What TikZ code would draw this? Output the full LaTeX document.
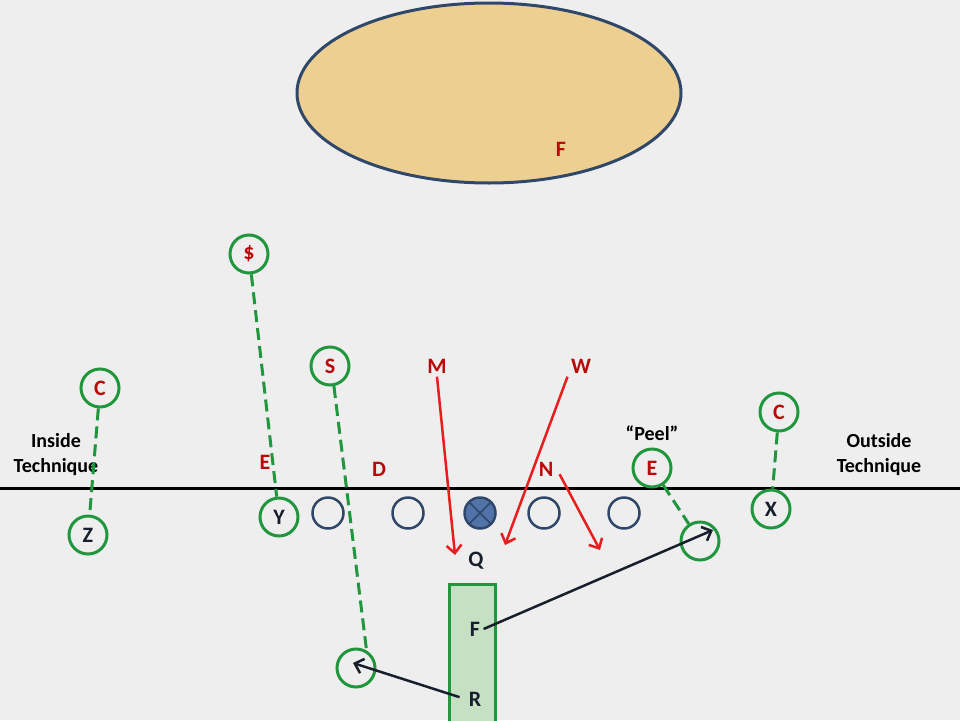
\documentclass[tikz,border=0pt]{standalone}
\usepackage{fontspec}
\setmainfont{Carlito}
\usepackage{tikz}
\usetikzlibrary{positioning}
\usetikzlibrary{arrows,arrows.meta}
\usetikzlibrary{shapes}

\definecolor{bggray}{RGB}{238,238,238}
\definecolor{zonetan}{RGB}{237,208,145}
\definecolor{navy}{RGB}{47,72,105}
\definecolor{fgreen}{RGB}{32,150,62}
\definecolor{dred}{RGB}{185,10,10}
\definecolor{bred}{RGB}{232,30,30}
\definecolor{olblue}{RGB}{82,114,170}
\definecolor{boxgreen}{RGB}{198,224,196}
\definecolor{ink}{RGB}{25,30,45}

\begin{document}
\begin{tikzpicture}[x=1pt,y=-1pt,on grid,font=\fontsize{22}{24}\selectfont\bfseries,
   >={Straight Barb[length=8pt,width=15pt]},
   cover/.style={circle,draw=fgreen,line width=3pt,minimum size=38pt,inner sep=0pt,text=dred},
   wr/.style={cover,text=ink},
   ol/.style={circle,draw=navy,line width=2.5pt,minimum size=31pt,inner sep=0pt},
   def/.style={text=dred},
   off/.style={text=ink},
   note/.style={align=center,font=\fontsize{20}{25}\selectfont\bfseries},
   rush/.style={->,draw=bred,line width=2.5pt},
   block/.style={->,draw=ink,line width=2.5pt},
   drop/.style={draw=fgreen,line width=3pt,dash pattern=on 12pt off 6pt}]
   \fill[bggray] (0,0) rectangle (960,720);
   \useasboundingbox (0,0) rectangle (960,720);

   \node[ellipse,draw=navy,fill=zonetan,line width=3pt,minimum width=384pt,minimum height=180pt] (deep) at (489,93) {};
   \node[def] (fs) at (561,149) {F};

   \draw[black,line width=3pt] (0,488) -- (960,488);

   \node[note] (inside) at (56,455) {Inside\\Technique};
   \node[note] (outside) at (879,455) {Outside\\Technique};

   \node[ol,fill=olblue,path picture={
      \draw[navy,line width=1.5pt] (path picture bounding box.north west) -- (path picture bounding box.south east)
         (path picture bounding box.north east) -- (path picture bounding box.south west);}] (ctr) at (480,513) {};
   \node[ol] (lg) [left=72pt of ctr] {};
   \node[ol] (lt) [left=80pt of lg] {};
   \node[ol] (rg) [right=64pt of ctr] {};
   \node[ol] (rt) [right=80pt of rg] {};

   \node[cover] (lc) at (100,388) {C};
   \node[wr] (z) at (88,535) {Z};
   \node[cover] (money) at (249,254) {\$};
   \node[wr] (y) at (279,517) {Y};
   \node[cover] (ss) at (330,366) {S};
   \node[cover] (peel) at (652,468) {E};
   \node[note] (peeltxt) [above=35pt of peel] {“Peel”};
   \node[cover] (rc) at (779,412) {C};
   \node[wr] (x) at (771,509) {X};
   \node[cover] (flat) at (700,541) {};
   \node[cover] (wheel) at (356,668) {};

   \node[def] (le) at (265,462) {E};
   \node[def] (dt) at (379,469) {D};
   \node[def] (mike) at (437,366) {M};
   \node[def] (will) at (581,366) {W};
   \node[def] (nose) at (546,469) {N};

   \node[draw=fgreen,fill=boxgreen,line width=3pt,minimum width=46pt,minimum height=140pt] (bk) at (472.5,654.5) {};
   \node[off] (qb) at (476,561) {Q};
   \node[off] (fb) at (475,629) {F};
   \node[off] (rb) at (475,699) {R};

   \coordinate (mq) at (455,555);
   \coordinate (wq) at (505,545);
   \coordinate (nq) at (600,550);
   \coordinate (fend) at (713,530);
   \coordinate (rend) at (353,663);

   \path[drop]
   (lc) edge (z)
   (money) edge (y)
   (ss.-79) edge (wheel.59)
   (peel) edge (flat)
   (rc) edge (x);

   \path
   (mike.south) edge[rush] (mq)
   (will.south west) edge[rush] (wq)
   (nose.east) edge[rush,shorten <=6pt] (nq);

   \path
   (fb.east) edge[block] (fend)
   (rb.west) edge[block,shorten <=6pt] (rend);
\end{tikzpicture}
\end{document}
